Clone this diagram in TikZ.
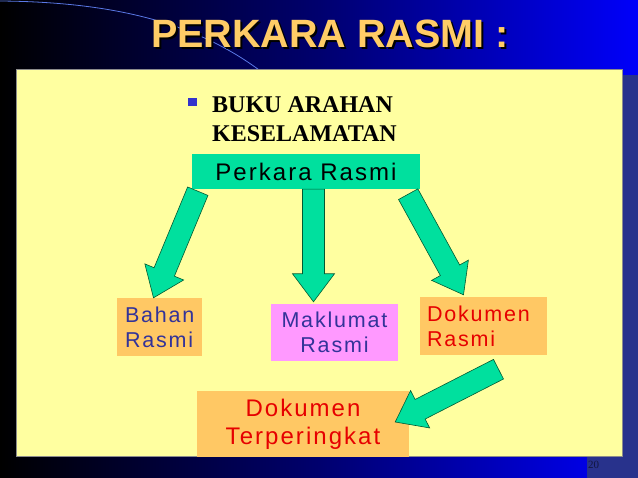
\documentclass[tikz,border=0pt]{standalone}
\usepackage{fontspec}
\setmainfont{Liberation Sans}
\newfontfamily\spaced[LetterSpace=8.5]{Liberation Sans}
\newfontfamily\bukufont{Liberation Serif}
\usetikzlibrary{calc}
\definecolor{panelyellow}{RGB}{255,255,160}
\definecolor{boxgreen}{RGB}{0,224,158}
\definecolor{edgegreen}{RGB}{0,90,50}
\definecolor{boxorange}{RGB}{255,200,100}
\definecolor{boxpink}{RGB}{255,153,255}
\definecolor{textnavy}{RGB}{51,51,153}
\definecolor{textred}{RGB}{230,0,0}
\definecolor{titleorange}{RGB}{255,204,102}
\definecolor{footnavy}{RGB}{40,50,140}
\def\fatarrow[#1](#2)(#3){\coordinate (fa-h) at ($(#3)!28pt!(#2)$);
	\draw[#1] ($(#2)!11pt!90:(#3)$) -- ($(fa-h)!11pt!90:(#3)$) -- ($(fa-h)!21pt!90:(#3)$) -- (#3)
	-- ($(fa-h)!21pt!-90:(#3)$) -- ($(fa-h)!11pt!-90:(#3)$) -- ($(#2)!11pt!-90:(#3)$) -- cycle;}
\def\titletext{PERKARA RASMI :}
\tikzset{
	rasmibox/.style={inner sep=0pt, minimum width=#1, text width=#1},
	greenarrow/.style={fill=boxgreen, draw=edgegreen, line width=0.6pt, line join=miter}
}
\begin{document}
\begin{tikzpicture}[x=1pt,y=-1pt]
			%%%%% START %%%%%
			\useasboundingbox (0,0) rectangle (638,478);
			
			\shade[left color=black, right color={rgb,255:red,0;green,0;blue,250}, middle color={rgb,255:red,0;green,0;blue,110}] (0,0) rectangle (638,478);
			\draw[line width=0.8pt, color={rgb,255:red,90;green,120;blue,230}] (0,1) .. controls (120,2) and (205,25) .. (272,80);
			
			% title with its shadow in one node
			\node[text=titleorange, font=\bfseries\fontsize{39.5}{39.5}\selectfont, anchor=base, inner sep=0pt] (title) at (330,48)
				{\makebox[0pt][l]{\hspace{2pt}\raisebox{-2pt}{\color{black}\titletext}}\titletext};
			
			\fill[footnavy] (587,452) rectangle (638,478);
			\fill[footnavy] (622,75) rectangle (638,456);
			\draw[fill=panelyellow, draw=black!45, line width=0.5pt] (16,69) rectangle (622,456);
			\node[text=footnavy!45!black, font=\bukufont\fontsize{11}{11}\selectfont, anchor=base west, inner sep=0pt] (pagenum) at (588,469) {20};
			
			%% bullet
			\fill[color={rgb,255:red,51;green,51;blue,204}] (188,98) rectangle (197,106);
			\node[font=\bukufont\bfseries\fontsize{24}{29}\selectfont, anchor=base west, inner sep=0pt] (buku) at (212,113) {BUKU ARAHAN};
			\node[font=\bukufont\bfseries\fontsize{24}{29}\selectfont, anchor=base west, inner sep=0pt] (kesel) at (212,142) {KESELAMATAN};
			
			%% boxes
			\node[fill=boxgreen, minimum width=228, minimum height=35, inner sep=0pt, font=\spaced\fontsize{24}{26}\selectfont] (perkara) at (306,171.5) {Perkara Rasmi};
			
			\node[fill=boxorange, rasmibox=69, minimum height=58, inner xsep=8pt, align=left, text=textnavy, font=\spaced\fontsize{21.5}{25}\selectfont] (bahan) at (159.5,327) {Bahan\\Rasmi};
			\node[fill=boxpink, rasmibox=127, minimum height=57, align=center, text=textnavy, font=\spaced\fontsize{21.5}{25}\selectfont] (maklumat) at (334.5,332.5) {Maklumat\\Rasmi};
			\node[fill=boxorange, rasmibox=113, minimum height=58, inner xsep=7pt, align=left, text=textred, font=\spaced\fontsize{21.5}{25}\selectfont] (dokrasmi) at (483.5,326) {Dokumen\\Rasmi};
			\node[fill=boxorange, rasmibox=212, minimum height=66, align=center, text=textred, font=\spaced\fontsize{24}{28}\selectfont] (dokter) at (303,424) {Dokumen\\Terperingkat};
			
			%% arrows
			\coordinate (a1s) at ($(perkara.south west)+(6,2)$);
			\coordinate (a1e) at ($(bahan.north)+(-6,0)$);
			\coordinate (a2s) at ($(perkara.south)+(7.5,0)$);
			\coordinate (a2e) at ($(maklumat.north)+(-21,-2)$);
			\coordinate (a3s) at ($(perkara.south east)+(-12,5)$);
			\coordinate (a3e) at ($(dokrasmi.north)+(-20,-2)$);
			\coordinate (a4s) at ($(dokrasmi.south)+(15,14)$);
			\coordinate (a4e) at ($(dokter.east)+(-14,-2)$);
			
			\fatarrow[greenarrow](a1s)(a1e)
			\fatarrow[greenarrow](a2s)(a2e)
			\fatarrow[greenarrow](a3s)(a3e)
			\fatarrow[greenarrow](a4s)(a4e)
			
			%%%%% END %%%%%
\end{tikzpicture}
\end{document}
